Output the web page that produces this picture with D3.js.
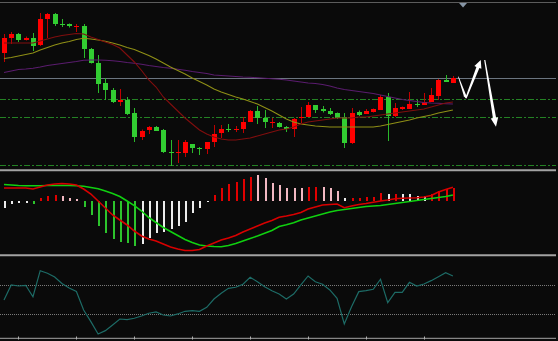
<!DOCTYPE html>
<html lang="en">
<head>
<meta charset="UTF-8">
<title>Candles MACD RSI</title>
<script src="https://d3js.org/d3.v7.min.js"></script>
<style>
    body { margin: 0; background: #0a0a0a; }
    svg { display: block; }
</style>
</head>
<body>
<script>
    // price bars, oldest first
    var opens  = [147,162,166,160.5,162,155,181,186,176,175.7,173,174,151,137,117,110,98,100.5,87,63,70,73,70,48,47,47,56,52,51,58,67,71,70,71,78,89,82,77,77,73,71,82,83,95,91,89,87,83,57,88,86,88,90,103,84,91,91,96,95,98,104,120,118];
    var highs  = [166,168,167,163.5,167,187,187,187,181,176.5,176,176,152,145,122,112,111,103,92,70.5,74,74,71,60,60,60,56,53,58,75,75,76,74,83,90,94,90,82,78,74,82,93,98,95,94,92,87.5,87,92,89.5,91,91.5,105,107,97,93.5,108,100,107,112,121,125,124];
    var lows   = [138,156,158,159.5,149,154,162,174,173,172.5,168,142,136.5,107,100,97,94,85,58,60,66,69,47,34,37,43,47,45,46,53,62,68,68,67,78,76,72,72,72.5,68,63,77,83,87,87.5,85,81,52,56,84,86,87.5,90,59,83,90,91,93,95,98,100,118,118];
    var closes = [162,166,160,162.2,154,181,186,176,175,173.3,174.3,151,137,116,110,98,100.5,87,63,69,73,69,48,47,48,58,52,51,58,66,71,70,71,78,89,82,78,78,73,71,81,83,95,90,89,86,82,57,87,85,89,91,103,84,92,93,96,95,98,105,120,118,122.5];

    // moving averages
    var maFast = [157,157,157,157,157,159,161,163,164.5,165.5,166.5,166,163,160.5,158,155.5,152,145,138,129.5,120,113,103,96,89,82,76,70,66,63,61,60,60,61,62,64,66,68,70,71,73,76,78,79,80,81,82,82,82,83,83,84,85,86,87,88,89,90,91,93,95,97,98];
    var maMid  = [141.5,142.5,144,145.5,147,150,152.5,155,157,158.5,160.5,161.7,161,160,158.7,157,155,152.5,150.5,147.5,144.5,141,137,133,129.5,126,122,118.5,115,111,108,105.5,103,101,98.5,96,92.5,89,85,81,78,76,75,74,73.5,73,73,73,73,73,73,73,74,75.5,77,78.5,80,82,83.5,85,87,88.5,90];
    var maSlow = [127.5,129,130.5,131,131.7,133,134.5,135.5,136.5,137.5,138.5,139.8,140,140,139.7,139.2,138.5,137.5,136.7,135.8,134.5,133.5,132.5,131.7,130.7,129.7,128.5,127.5,126.5,125,124.5,124,123.5,123,122.7,122.2,121.8,121.3,120.8,120,119,118,117,116.5,115.5,114,112,110.5,109.5,108.5,107.5,106.5,105,103.5,102,100.5,99.5,98.5,97.5,97,96.7,96.3,96];

    // horizontal levels drawn on the price panel
    var levels = [101, 83.3, 35];

    // MACD panel
    var histogram = [-7,-3.3,-2.3,-2,-3.3,2.4,5,5.7,4.7,3,1.7,-6,-14.3,-25,-32.6,-38.3,-41,-42.6,-45.3,-43.6,-37.6,-32.6,-31,-28.3,-25,-21,-12.6,-7.6,-1.6,5.7,12.4,16.4,19,21.7,24,25.7,23,17.4,15.7,13,13,12.4,14,14,14,12.4,10,2.4,2.4,3,3.4,4,8,6.4,6.4,6.4,6.4,5,5,6.4,9.7,11.7,13];
    var histKind  = ["w","w","w","w","g","r","r","r","p","p","p","g","g","g","g","g","g","g","g","w","w","w","w","w","w","w","w","w","w","r","r","r","r","r","r","p","p","p","p","p","p","p","r","r","p","p","p","w","r","r","r","r","r","w","r","w","w","w","w","r","r","r","r"];
    var macdLine  = [12.7,12.7,12.7,12.7,11.7,13.7,15.7,16.7,17.2,16.7,15.7,11.7,6.7,-0.3,-7.3,-14.3,-19.3,-24.3,-30.3,-35.3,-38.3,-40.3,-43.3,-46.3,-48.3,-49.8,-49.8,-48.8,-45.3,-42.3,-39.3,-37.3,-34.8,-31.3,-28.3,-25.3,-22.3,-19.8,-16.6,-15.3,-13.8,-11.8,-8.3,-6.3,-4.3,-3.8,-3.3,-7,-5.3,-3.8,-2.8,-1.6,-0.3,0.7,2,2.4,2.7,2.9,3.7,5.2,8.7,11.2,13.4];
    var signalLine = [16.2,15.7,15.2,15,15,15,15.2,15.2,15.2,15.2,15,14.5,13.2,12,9.7,7.2,4.2,-0.3,-5,-10.3,-16.8,-21.8,-26.8,-30.8,-34.8,-38.8,-41.8,-44.3,-45.3,-45.8,-46,-44.8,-42.8,-40.3,-37.8,-35.3,-32.6,-29.8,-25.8,-24,-22,-19.3,-17.3,-15.3,-13.3,-11.3,-9.8,-8.8,-7.8,-6.8,-5.8,-5.3,-4.8,-3.8,-2.8,-1.8,-0.8,0.2,1.2,2.2,3.2,4.2,5.7];

    // oscillator panel
    var rsi = [49.5,70,68.6,69.6,54,89.5,86,80.9,72,65.9,61.1,35.9,20,3.2,7.7,15.5,23.6,22.7,24.6,27.7,31.4,33.2,29.1,27.7,30.5,34.1,35,34.1,39.6,50.9,58.7,65.5,66.9,71,80.5,74.5,67.7,62.2,57.7,50.9,57.7,70,82.3,74.5,71,63.2,51.9,16.8,40.4,60.9,62.2,64.1,77.8,45.9,60,60,73.7,68.6,71.4,75.9,81.3,86.8,82.3];
    var rsiLevels = [70, 30];

    // hand drawn arrows (bar index, price)
    var arrowBars   = [62.75, 63.8, 65.85, 66.4, 67.95];
    var arrowPrices = [123.3, 101.7, 140, 140, 73.3];

    var timeTickBars = [2, 10, 18, 26, 34, 42, 50, 58];
    var shiftBar = 63.4;

    var w = 558;
    var h = 341;
    var right = 556;

    var candleUp = "#ff0000", candleDown = "#32cd32";
    var histColor = { w: "#ececec", p: "#f2b8c2", r: "#e00000", g: "#2cc42c" };

    var x = d3.scaleLinear().domain([0, 62]).range([4, 452.9]);
    var yMain = d3.scaleLinear().domain([31, 197]).range([169, 3]);
    var yMacd = d3.scaleLinear().domain([-53.3, 29.7]).range([254, 171]);
    var yRsi = d3.scaleLinear().domain([0, 100]).range([336.3, 263]);

    var svg = d3.select("body")
        .append("svg")
        .attr("width", w)
        .attr("height", h);

    svg.append("rect")
        .attr("width", w)
        .attr("height", h)
        .attr("fill", "#0a0a0a");

    var defs = svg.append("defs");
    function clip(id, top, bottom) {
        defs.append("clipPath").attr("id", id)
            .append("rect").attr("x", 0).attr("y", top)
            .attr("width", right).attr("height", bottom - top);
    }
    clip("cMain", 3, 169);
    clip("cMacd", 171.5, 254.5);
    clip("cRsi", 256, 337.5);

    var px = function(i) { return Math.round(x(i)); };

    // ---------- main panel ----------
    var main = svg.append("g").attr("clip-path", "url(#cMain)");

    main.selectAll("line.level")
        .data(levels)
        .enter()
        .append("line")
        .attr("shape-rendering", "crispEdges")
        .attr("x1", 0)
        .attr("x2", right)
        .attr("y1", function(d) { return Math.round(yMain(d)) + 0.5; })
        .attr("y2", function(d) { return Math.round(yMain(d)) + 0.5; })
        .attr("stroke", "#248224")
        .attr("stroke-dasharray", "6,2,2,2");

    var bidY = Math.round(yMain(closes[closes.length - 1])) + 0.5;
    main.append("line")
        .attr("x1", 0).attr("x2", right)
        .attr("y1", bidY).attr("y2", bidY)
        .attr("stroke", "#6b7580");

    var bars = d3.range(opens.length);

    main.selectAll("line.wick")
        .data(bars)
        .enter()
        .append("line")
        .attr("x1", function(i) { return px(i) + 0.5; })
        .attr("x2", function(i) { return px(i) + 0.5; })
        .attr("y1", function(i) { return yMain(highs[i]); })
        .attr("y2", function(i) { return yMain(lows[i]); })
        .attr("stroke", function(i) { return closes[i] >= opens[i] ? "#c00000" : "#2ab82a"; });

    main.selectAll("rect.body")
        .data(bars)
        .enter()
        .append("rect")
        .attr("shape-rendering", "crispEdges")
        .attr("x", function(i) { return px(i) - 2; })
        .attr("width", 5)
        .attr("y", function(i) { return Math.round(yMain(Math.max(opens[i], closes[i]))); })
        .attr("height", function(i) {
            return Math.max(1, Math.round(Math.abs(yMain(opens[i]) - yMain(closes[i]))));
        })
        .attr("fill", function(i) { return closes[i] >= opens[i] ? candleUp : candleDown; });

    var maLine = d3.line()
        .x(function(d, i) { return x(i); })
        .y(function(d) { return yMain(d); });

    [[maSlow, "#5a1c6e"], [maMid, "#8f8f16"], [maFast, "#800e0e"]].forEach(function(s) {
        main.append("path")
            .attr("d", maLine(s[0]))
            .attr("fill", "none")
            .attr("stroke", s[1])
            .attr("stroke-width", 1.1);
    });

    // arrows
    function wedge(p0, p1, w0, w1, headLen, headW) {
        var dx = p1[0] - p0[0], dy = p1[1] - p0[1];
        var len = Math.sqrt(dx * dx + dy * dy);
        var ux = dx / len, uy = dy / len, nx = -uy, ny = ux;
        var e = [p1[0] - ux * headLen, p1[1] - uy * headLen];
        return [
            [p0[0] + nx * w0 / 2, p0[1] + ny * w0 / 2],
            [e[0] + nx * w1 / 2, e[1] + ny * w1 / 2],
            [e[0] + nx * headW / 2, e[1] + ny * headW / 2],
            p1,
            [e[0] - nx * headW / 2, e[1] - ny * headW / 2],
            [e[0] - nx * w1 / 2, e[1] - ny * w1 / 2],
            [p0[0] - nx * w0 / 2, p0[1] - ny * w0 / 2]
        ];
    }
    var ap = arrowBars.map(function(b, i) { return [x(b), yMain(arrowPrices[i])]; });
    var arrows = [
        wedge(ap[0], ap[1], 0.6, 2.4, 3, 3.2),
        wedge(ap[1], ap[2], 1.4, 3.2, 8, 7.5),
        wedge(ap[3], ap[4], 1.2, 3.2, 9, 7.5)
    ];
    svg.selectAll("polygon.arrow")
        .data(arrows)
        .enter()
        .append("polygon")
        .attr("points", function(d) { return d.map(function(p) { return p.join(","); }).join(" "); })
        .attr("fill", "#ffffff");

    // ---------- MACD panel ----------
    var macd = svg.append("g").attr("clip-path", "url(#cMacd)");

    macd.selectAll("rect.hist")
        .data(histogram)
        .enter()
        .append("rect")
        .attr("shape-rendering", "crispEdges")
        .attr("x", function(d, i) { return px(i) - 0.5; })
        .attr("width", 2)
        .attr("y", function(d) { return Math.min(yMacd(d), yMacd(0)); })
        .attr("height", function(d) { return Math.max(1, Math.abs(yMacd(d) - yMacd(0))); })
        .attr("fill", function(d, i) { return histColor[histKind[i]]; });

    var macdPath = d3.line()
        .x(function(d, i) { return x(i); })
        .y(function(d) { return yMacd(d); });

    macd.append("path")
        .attr("d", macdPath(signalLine))
        .attr("fill", "none")
        .attr("stroke", "#10d010")
        .attr("stroke-width", 1.6);

    macd.append("path")
        .attr("d", macdPath(macdLine))
        .attr("fill", "none")
        .attr("stroke", "#d80000")
        .attr("stroke-width", 1.6);

    // ---------- RSI panel ----------
    var osc = svg.append("g").attr("clip-path", "url(#cRsi)");

    osc.selectAll("line.rl")
        .data(rsiLevels)
        .enter()
        .append("line")
        .attr("x1", 0).attr("x2", right)
        .attr("y1", function(d) { return Math.round(yRsi(d)) + 0.5; })
        .attr("y2", function(d) { return Math.round(yRsi(d)) + 0.5; })
        .attr("stroke", "#7a7a7a")
        .attr("stroke-dasharray", "1,1");

    osc.append("path")
        .attr("d", d3.line()
            .x(function(d, i) { return x(i); })
            .y(function(d) { return yRsi(d); })(rsi))
        .attr("fill", "none")
        .attr("stroke", "#1d6b66")
        .attr("stroke-width", 1.2);

    // ---------- frame ----------
    svg.append("line")
        .attr("x1", 0).attr("x2", right).attr("y1", 2.5).attr("y2", 2.5)
        .attr("stroke", "#5c5c5c");

    [170.3, 255.2].forEach(function(yy) {
        svg.append("line")
            .attr("x1", 0).attr("x2", right).attr("y1", yy).attr("y2", yy)
            .attr("stroke", "#a3a3a3").attr("stroke-width", 2);
    });

    svg.append("line")
        .attr("x1", 0).attr("x2", right).attr("y1", 338.4).attr("y2", 338.4)
        .attr("stroke", "#858585").attr("stroke-width", 1.4);

    svg.selectAll("line.tt")
        .data(timeTickBars)
        .enter()
        .append("line")
        .attr("x1", function(d) { return px(d) + 0.5; })
        .attr("x2", function(d) { return px(d) + 0.5; })
        .attr("y1", 336.5).attr("y2", 339.5)
        .attr("stroke", "#b0b0b0");

    var sx = x(shiftBar);
    svg.append("path")
        .attr("d", "M" + (sx - 4) + ",3 L" + (sx + 4) + ",3 L" + sx + ",7.5 Z")
        .attr("fill", "#8796a6");
</script>
</body>
</html>
